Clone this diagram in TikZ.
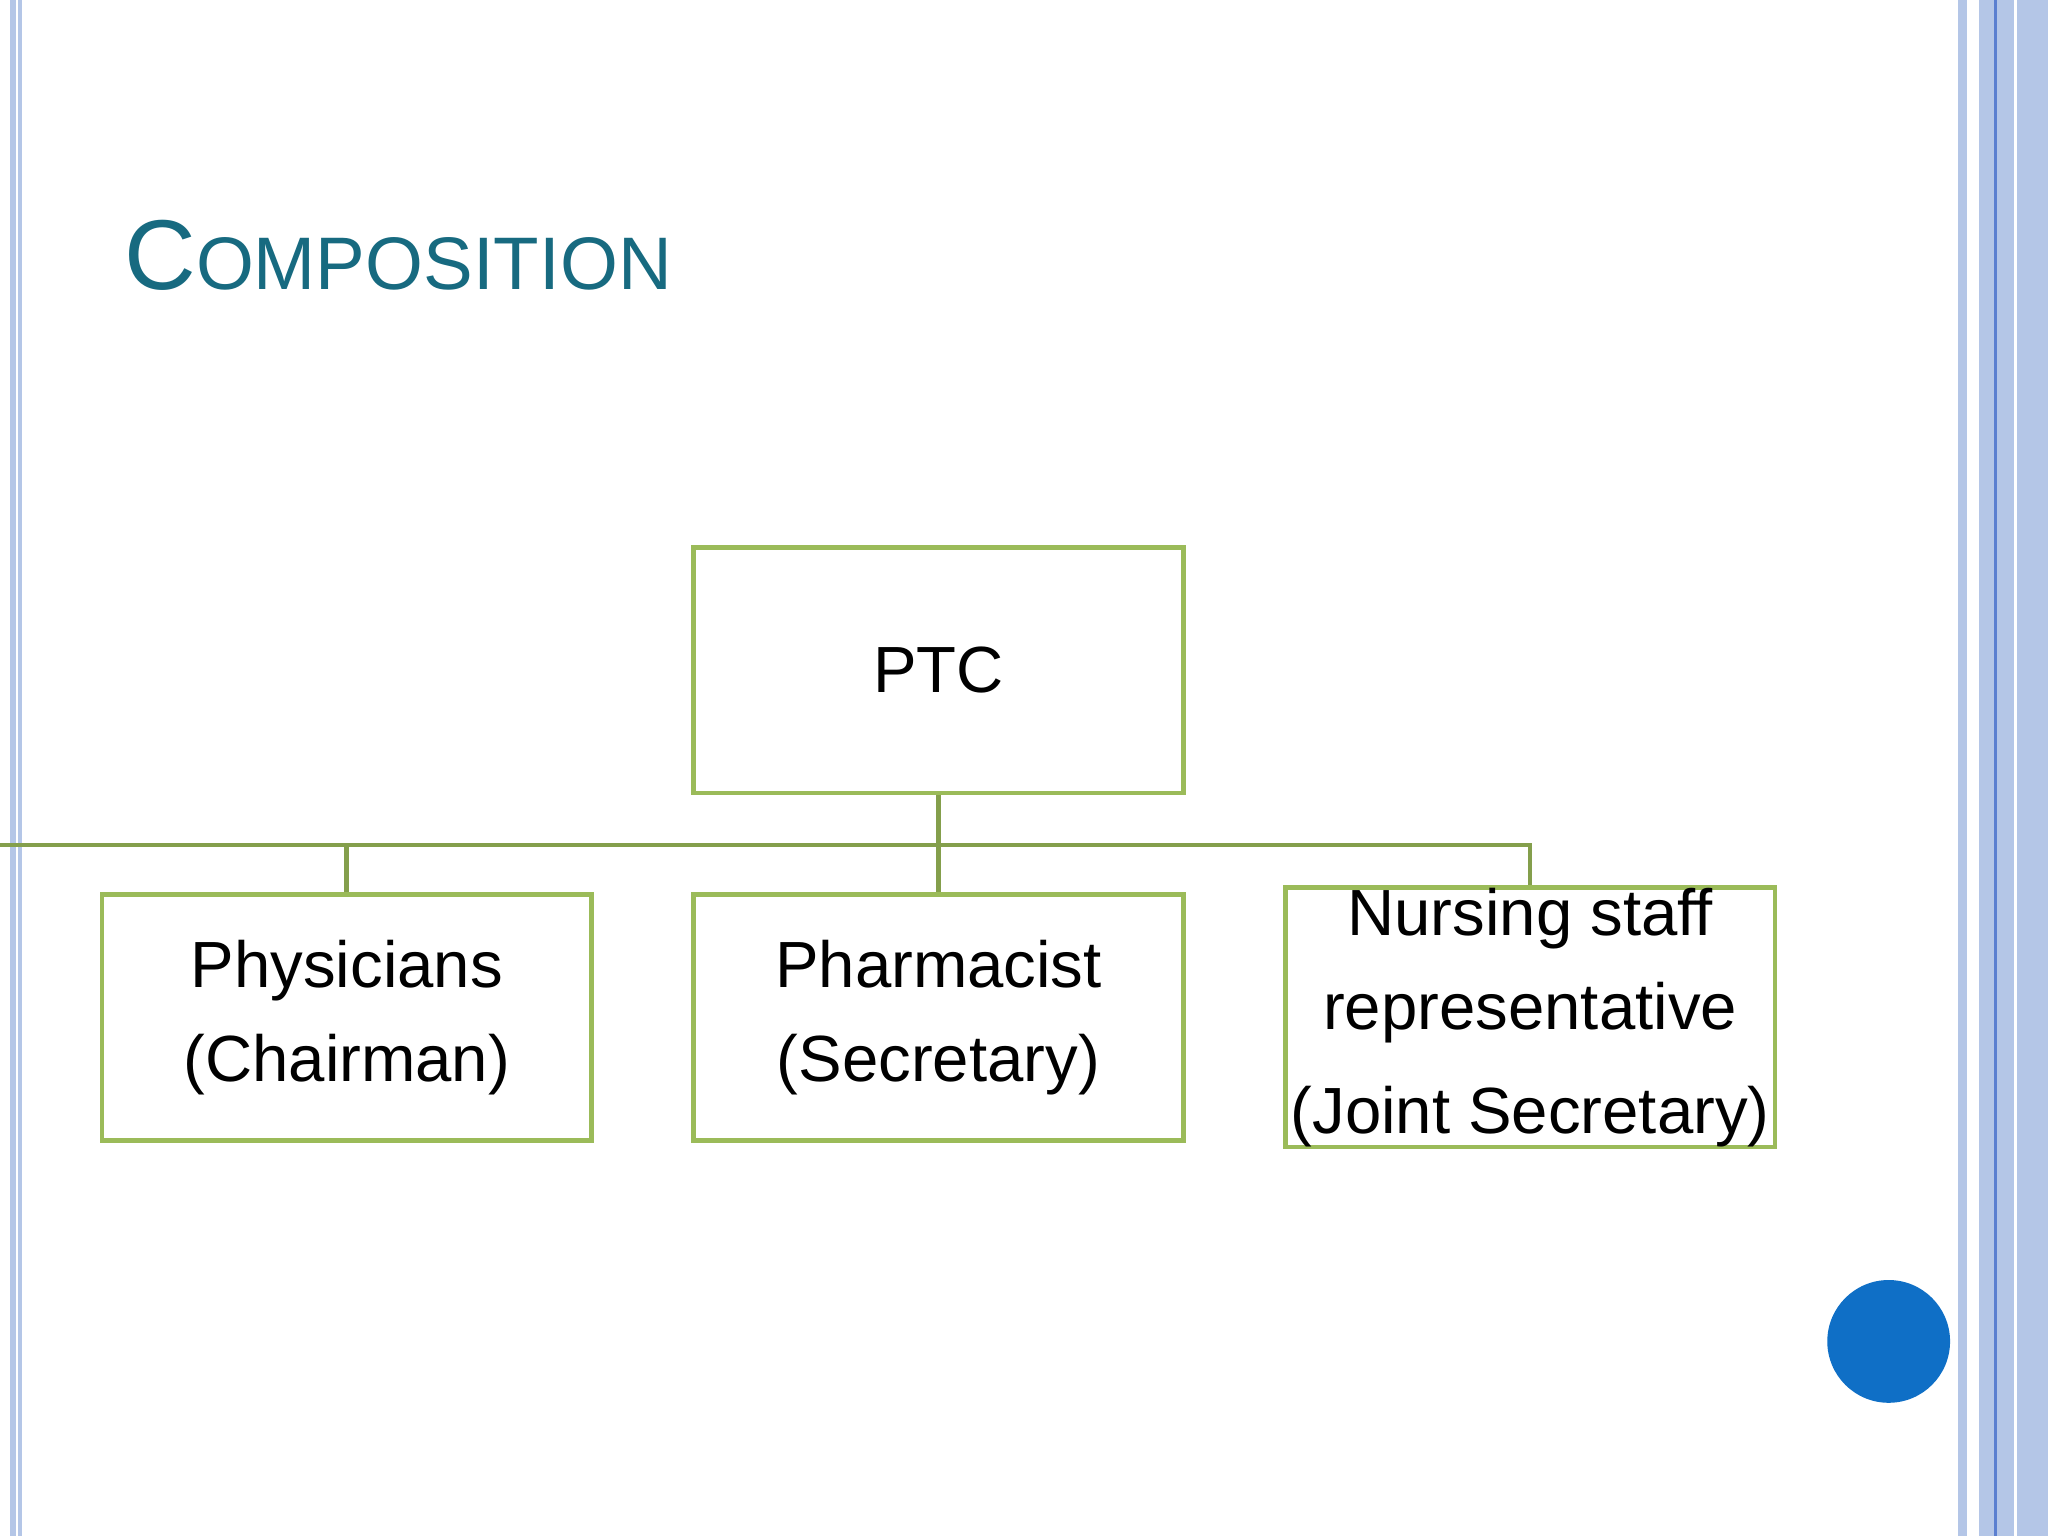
\documentclass[tikz,border=0pt]{standalone}
\usepackage{fontspec}
\setmainfont{Liberation Sans}
\definecolor{grn}{HTML}{9BBB59}
\definecolor{ttl}{HTML}{176A80}
\definecolor{lb}{HTML}{B4C6E7}
\definecolor{db}{HTML}{5B7FD0}
\definecolor{dot}{HTML}{0F6FC6}
\begin{document}
\begin{tikzpicture}[x=1pt,y=-1pt,
  box/.style={draw=grn,line width=3.5pt,minimum width=375pt,minimum height=188pt,inner sep=0pt,align=center,font=\fontsize{50}{72}\selectfont},
  conn/.style={draw=grn!85!black,line width=3.5pt}]
\useasboundingbox (0,0) rectangle (1568,1176);
\fill[white] (0,0) rectangle (1568,1176);
% borders
\fill[lb] (8,0) rectangle (12,1176);
\fill[lb] (14,0) rectangle (17,1176);
\fill[lb] (1499,0) rectangle (1506,1176);
\fill[lb] (1515,0) rectangle (1568,1176);
\fill[db] (1527,0) rectangle (1529,1176);
\fill[white] (1542,0) rectangle (1544,1176);
\node[anchor=base west,text=ttl,inner sep=0pt] (title) at (95,222)
  {\fontsize{76}{80}\selectfont C\fontsize{57}{60}\selectfont OMPOSITION};
\node[box] (ptc) at (718.5,513) {PTC};
\node[box] (phy) at (265.5,779) {Physicians\\(Chairman)};
\node[box] (pha) at (718.5,779) {Pharmacist\\(Secretary)};
\node[box] (nur) at (1171.5,779) {\fontsize{50}{53}\selectfont Nursing staff\\representative\\[8pt](Joint Secretary)};
\draw[conn] (ptc.south) -- (pha.north);
\draw[conn] (phy.north) |- (0,647) coordinate (m) -| (nur.north);
\fill[dot] (1446,1027) circle (47);
\end{tikzpicture}
\end{document}
